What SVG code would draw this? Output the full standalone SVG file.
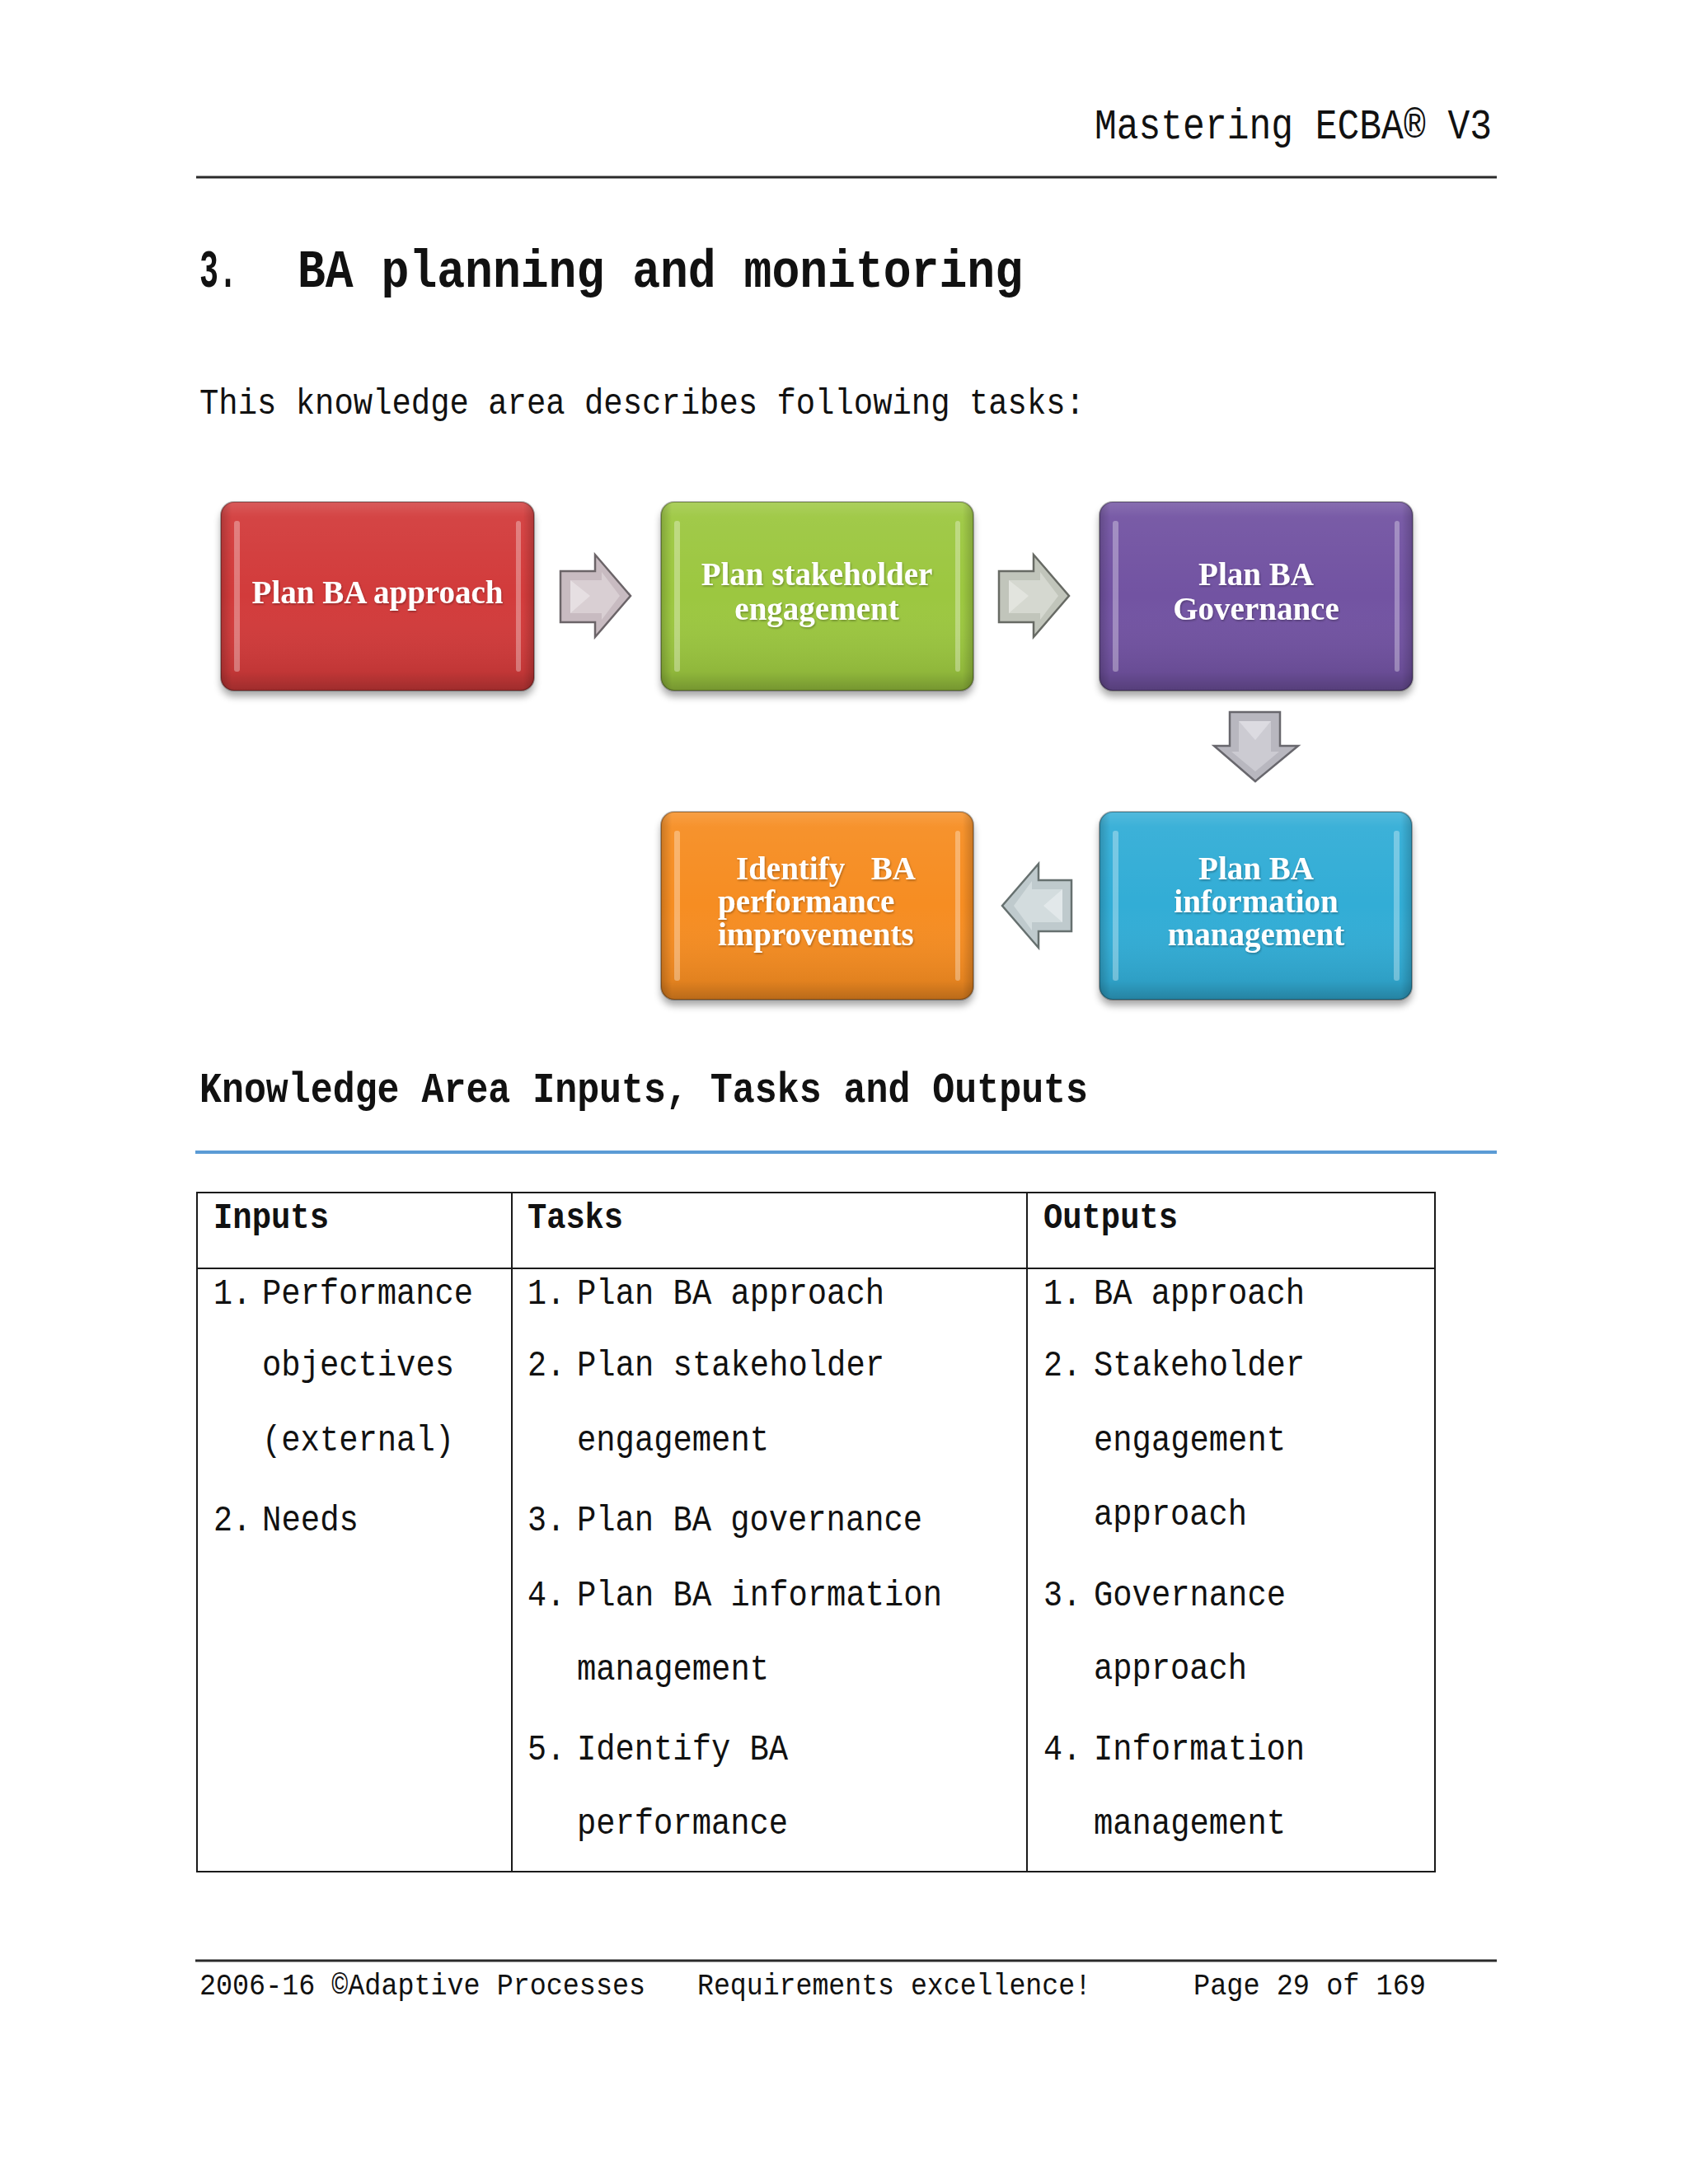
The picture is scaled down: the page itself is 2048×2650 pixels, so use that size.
<svg xmlns="http://www.w3.org/2000/svg" width="2048" height="2650" viewBox="0 0 2048 2650">
<style>
.m{font-family:"Liberation Mono","DejaVu Sans Mono",monospace;fill:#111}
.b{font-weight:bold}
.t{font-size:44px}
.bx{font-family:"Liberation Serif","DejaVu Serif",serif;font-weight:bold;font-size:39px;fill:#fff}
.rule{stroke:#2b2b2b;stroke-width:3}
.grid{stroke:#1a1a1a;stroke-width:2;fill:none}
.hi{fill:#fff;opacity:0.32}
.rim{fill:none;stroke:#000;stroke-opacity:0.28;stroke-width:2}
.arw{stroke-width:2.5;stroke-linejoin:miter}
</style>
<defs>
<linearGradient id="gv" x1="0" y1="0" x2="0" y2="1">
<stop offset="0" stop-color="#fff" stop-opacity="0.16"/>
<stop offset="0.08" stop-color="#fff" stop-opacity="0.05"/>
<stop offset="0.5" stop-color="#fff" stop-opacity="0"/>
<stop offset="0.9" stop-color="#000" stop-opacity="0.08"/>
<stop offset="1" stop-color="#000" stop-opacity="0.25"/>
</linearGradient>
<linearGradient id="gh" x1="0" y1="0" x2="1" y2="0">
<stop offset="0" stop-color="#000" stop-opacity="0.18"/>
<stop offset="0.035" stop-color="#000" stop-opacity="0"/>
<stop offset="0.965" stop-color="#000" stop-opacity="0"/>
<stop offset="1" stop-color="#000" stop-opacity="0.18"/>
</linearGradient>
<filter id="sh" x="-10%" y="-10%" width="120%" height="125%">
<feGaussianBlur in="SourceAlpha" stdDeviation="5"/>
<feOffset dy="7" result="o"/>
<feComponentTransfer><feFuncA type="linear" slope="0.35"/></feComponentTransfer>
<feMerge><feMergeNode/><feMergeNode in="SourceGraphic"/></feMerge>
</filter>
<filter id="ts"><feDropShadow dx="1" dy="1.5" stdDeviation="1" flood-color="#000" flood-opacity="0.3"/></filter>
</defs>
<rect width="2048" height="2650" fill="#fff"/>

<!-- page header -->
<text class="m" x="1328" y="168" font-size="51" textLength="482" lengthAdjust="spacingAndGlyphs">Mastering ECBA® V3</text>
<line class="rule" x1="238" y1="215" x2="1816" y2="215"/>
<text class="m b" x="242" y="348" font-size="65" textLength="46" lengthAdjust="spacingAndGlyphs">3.</text>
<text class="m b" x="361" y="348" font-size="65" textLength="880" lengthAdjust="spacingAndGlyphs">BA planning and monitoring</text>
<text class="m" x="242" y="502" font-size="44" textLength="1074" lengthAdjust="spacingAndGlyphs">This knowledge area describes following tasks:</text>

<!-- nodes -->
<g id="node-plan-ba-approach">
<g filter="url(#sh)"><rect x="268" y="609" width="380" height="229" rx="16" fill="#d23b3b"/></g>
<rect x="268" y="609" width="380" height="229" rx="16" fill="url(#gv)"/>
<rect x="268" y="609" width="380" height="229" rx="16" fill="url(#gh)"/>
<rect class="hi" x="284" y="632" width="7" height="183" rx="3"/>
<rect class="hi" x="626" y="632" width="6" height="183" rx="3" opacity="0.1"/>
<rect class="rim" x="268" y="609" width="380" height="229" rx="16"/>
<text class="bx" x="458" y="732" text-anchor="middle" filter="url(#ts)">Plan BA approach</text>
</g>
<g id="node-plan-stakeholder-engagement">
<g filter="url(#sh)"><rect x="802" y="609" width="379" height="229" rx="16" fill="#9cc73f"/></g>
<rect x="802" y="609" width="379" height="229" rx="16" fill="url(#gv)"/>
<rect x="802" y="609" width="379" height="229" rx="16" fill="url(#gh)"/>
<rect class="hi" x="818" y="632" width="7" height="183" rx="3"/>
<rect class="hi" x="1159" y="632" width="6" height="183" rx="3" opacity="0.1"/>
<rect class="rim" x="802" y="609" width="379" height="229" rx="16"/>
<text class="bx" x="991" y="710" text-anchor="middle" filter="url(#ts)">Plan stakeholder</text>
<text class="bx" x="991" y="752" text-anchor="middle" filter="url(#ts)">engagement</text>
</g>
<g id="node-plan-ba-governance">
<g filter="url(#sh)"><rect x="1334" y="609" width="380" height="229" rx="16" fill="#7252a2"/></g>
<rect x="1334" y="609" width="380" height="229" rx="16" fill="url(#gv)"/>
<rect x="1334" y="609" width="380" height="229" rx="16" fill="url(#gh)"/>
<rect class="hi" x="1350" y="632" width="7" height="183" rx="3" opacity="0.25"/>
<rect class="hi" x="1692" y="632" width="6" height="183" rx="3" opacity="0.1"/>
<rect class="rim" x="1334" y="609" width="380" height="229" rx="16"/>
<text class="bx" x="1524" y="710" text-anchor="middle" filter="url(#ts)">Plan BA</text>
<text class="bx" x="1524" y="752" text-anchor="middle" filter="url(#ts)">Governance</text>
</g>
<g id="node-plan-ba-information-management">
<g filter="url(#sh)"><rect x="1334" y="985" width="379" height="228" rx="16" fill="#33add6"/></g>
<rect x="1334" y="985" width="379" height="228" rx="16" fill="url(#gv)"/>
<rect x="1334" y="985" width="379" height="228" rx="16" fill="url(#gh)"/>
<rect class="hi" x="1350" y="1008" width="7" height="182" rx="3" opacity="0.22"/>
<rect class="hi" x="1691" y="1008" width="7" height="182" rx="3" opacity="0.3"/>
<rect class="rim" x="1334" y="985" width="379" height="228" rx="16"/>
<text class="bx" x="1524" y="1067" text-anchor="middle" filter="url(#ts)">Plan BA</text>
<text class="bx" x="1524" y="1107" text-anchor="middle" filter="url(#ts)">information</text>
<text class="bx" x="1524" y="1147" text-anchor="middle" filter="url(#ts)">management</text>
</g>
<g id="node-identify-ba-performance-improvements">
<g filter="url(#sh)"><rect x="802" y="985" width="379" height="228" rx="16" fill="#f68d22"/></g>
<rect x="802" y="985" width="379" height="228" rx="16" fill="url(#gv)"/>
<rect x="802" y="985" width="379" height="228" rx="16" fill="url(#gh)"/>
<rect class="hi" x="818" y="1008" width="7" height="182" rx="3" opacity="0.35"/>
<rect class="hi" x="1159" y="1008" width="6" height="182" rx="3" opacity="0.15"/>
<rect class="rim" x="802" y="985" width="379" height="228" rx="16"/>
<text class="bx" x="893" y="1067" filter="url(#ts)">Identify</text>
<text class="bx" x="1111" y="1067" text-anchor="end" filter="url(#ts)">BA</text>
<text class="bx" x="871" y="1107" filter="url(#ts)">performance</text>
<text class="bx" x="871" y="1147" filter="url(#ts)">improvements</text>
</g>

<!-- connectors -->
<g id="connectors">
<g id="arrow-1">
<polygon class="arw" points="680,693 722,693 722,673 765,723 722,773 722,755 680,755" fill="#c8bbc1" stroke="#6b6468"/>
<polygon points="692,704 730,704 730,694 752,723 730,752 730,744 692,744" fill="#d9cfd3"/>
<polygon points="692,704 716,723 692,744" fill="#e6dfe2"/>
</g>
<g id="arrow-2">
<polygon class="arw" points="1212,693 1254,693 1254,673 1297,723 1254,773 1254,755 1212,755" fill="#c1c5bb" stroke="#676a64"/>
<polygon points="1224,704 1262,704 1262,694 1284,723 1262,752 1262,744 1224,744" fill="#d5d8d0"/>
<polygon points="1224,704 1248,723 1224,744" fill="#e2e4de"/>
</g>
<g id="arrow-3">
<polygon class="arw" points="1492,864 1553,864 1553,905 1575,905 1523,948 1473,905 1492,905" fill="#b8b7bf" stroke="#68676d"/>
<polygon points="1503,875 1542,875 1542,912 1552,912 1523,936 1494,912 1503,912" fill="#cccbd2"/>
<polygon points="1503,875 1542,875 1523,898" fill="#dcdbe1"/>
</g>
<g id="arrow-4">
<polygon class="arw" points="1300,1068 1260,1068 1260,1048 1216,1099 1260,1150 1260,1130 1300,1130" fill="#bfcacd" stroke="#66706f"/>
<polygon points="1289,1079 1252,1079 1252,1069 1230,1099 1252,1129 1252,1119 1289,1119" fill="#d3dcde"/>
<polygon points="1289,1079 1266,1099 1289,1119" fill="#e2e8ea"/>
</g>
</g>

<!-- section heading -->
<text class="m b" x="242" y="1337" font-size="52" textLength="1078" lengthAdjust="spacingAndGlyphs">Knowledge Area Inputs, Tasks and Outputs</text>
<line x1="237" y1="1398" x2="1816" y2="1398" stroke="#5b9bd5" stroke-width="4"/>

<!-- table -->
<g id="table">
<rect class="grid" x="239" y="1447" width="1502" height="824"/>
<line class="grid" x1="239" y1="1447" x2="1741" y2="1447" stroke-width="3"/>
<line class="grid" x1="239" y1="1539" x2="1741" y2="1539" stroke-width="3.5"/>
<line class="grid" x1="239" y1="2271" x2="1741" y2="2271" stroke-width="3.5"/>
<line class="grid" x1="621" y1="1447" x2="621" y2="2271"/>
<line class="grid" x1="1246" y1="1447" x2="1246" y2="2271"/>

<text class="m b t" x="259" y="1490" textLength="140" lengthAdjust="spacingAndGlyphs">Inputs</text>
<text class="m b t" x="640" y="1490" textLength="116" lengthAdjust="spacingAndGlyphs">Tasks</text>
<text class="m b t" x="1266" y="1490" textLength="163" lengthAdjust="spacingAndGlyphs">Outputs</text>

<text class="m t" x="259" y="1582" textLength="46" lengthAdjust="spacingAndGlyphs">1.</text>
<text class="m t" x="318" y="1582" textLength="256" lengthAdjust="spacingAndGlyphs">Performance</text>
<text class="m t" x="318" y="1669" textLength="233" lengthAdjust="spacingAndGlyphs">objectives</text>
<text class="m t" x="318" y="1760" textLength="233" lengthAdjust="spacingAndGlyphs">(external)</text>
<text class="m t" x="259" y="1857" textLength="46" lengthAdjust="spacingAndGlyphs">2.</text>
<text class="m t" x="318" y="1857" textLength="117" lengthAdjust="spacingAndGlyphs">Needs</text>

<text class="m t" x="640" y="1582" textLength="46" lengthAdjust="spacingAndGlyphs">1.</text>
<text class="m t" x="700" y="1582" textLength="373" lengthAdjust="spacingAndGlyphs">Plan BA approach</text>
<text class="m t" x="640" y="1669" textLength="46" lengthAdjust="spacingAndGlyphs">2.</text>
<text class="m t" x="700" y="1669" textLength="373" lengthAdjust="spacingAndGlyphs">Plan stakeholder</text>
<text class="m t" x="700" y="1760" textLength="233" lengthAdjust="spacingAndGlyphs">engagement</text>
<text class="m t" x="640" y="1857" textLength="46" lengthAdjust="spacingAndGlyphs">3.</text>
<text class="m t" x="700" y="1857" textLength="419" lengthAdjust="spacingAndGlyphs">Plan BA governance</text>
<text class="m t" x="640" y="1948" textLength="46" lengthAdjust="spacingAndGlyphs">4.</text>
<text class="m t" x="700" y="1948" textLength="443" lengthAdjust="spacingAndGlyphs">Plan BA information</text>
<text class="m t" x="700" y="2038" textLength="233" lengthAdjust="spacingAndGlyphs">management</text>
<text class="m t" x="640" y="2135" textLength="46" lengthAdjust="spacingAndGlyphs">5.</text>
<text class="m t" x="700" y="2135" textLength="256" lengthAdjust="spacingAndGlyphs">Identify BA</text>
<text class="m t" x="700" y="2225" textLength="256" lengthAdjust="spacingAndGlyphs">performance</text>

<text class="m t" x="1266" y="1582" textLength="46" lengthAdjust="spacingAndGlyphs">1.</text>
<text class="m t" x="1327" y="1582" textLength="256" lengthAdjust="spacingAndGlyphs">BA approach</text>
<text class="m t" x="1266" y="1669" textLength="46" lengthAdjust="spacingAndGlyphs">2.</text>
<text class="m t" x="1327" y="1669" textLength="256" lengthAdjust="spacingAndGlyphs">Stakeholder</text>
<text class="m t" x="1327" y="1760" textLength="233" lengthAdjust="spacingAndGlyphs">engagement</text>
<text class="m t" x="1327" y="1850" textLength="186" lengthAdjust="spacingAndGlyphs">approach</text>
<text class="m t" x="1266" y="1948" textLength="46" lengthAdjust="spacingAndGlyphs">3.</text>
<text class="m t" x="1327" y="1948" textLength="233" lengthAdjust="spacingAndGlyphs">Governance</text>
<text class="m t" x="1327" y="2037" textLength="186" lengthAdjust="spacingAndGlyphs">approach</text>
<text class="m t" x="1266" y="2135" textLength="46" lengthAdjust="spacingAndGlyphs">4.</text>
<text class="m t" x="1327" y="2135" textLength="256" lengthAdjust="spacingAndGlyphs">Information</text>
<text class="m t" x="1327" y="2225" textLength="233" lengthAdjust="spacingAndGlyphs">management</text>
</g>

<!-- footer -->
<line class="rule" x1="237" y1="2379" x2="1816" y2="2379"/>
<text class="m" x="242" y="2420" font-size="37" textLength="541" lengthAdjust="spacingAndGlyphs">2006-16 ©Adaptive Processes</text>
<text class="m" x="846" y="2420" font-size="37" textLength="478" lengthAdjust="spacingAndGlyphs">Requirements excellence!</text>
<text class="m" x="1448" y="2420" font-size="37" textLength="282" lengthAdjust="spacingAndGlyphs">Page 29 of 169</text>
</svg>
